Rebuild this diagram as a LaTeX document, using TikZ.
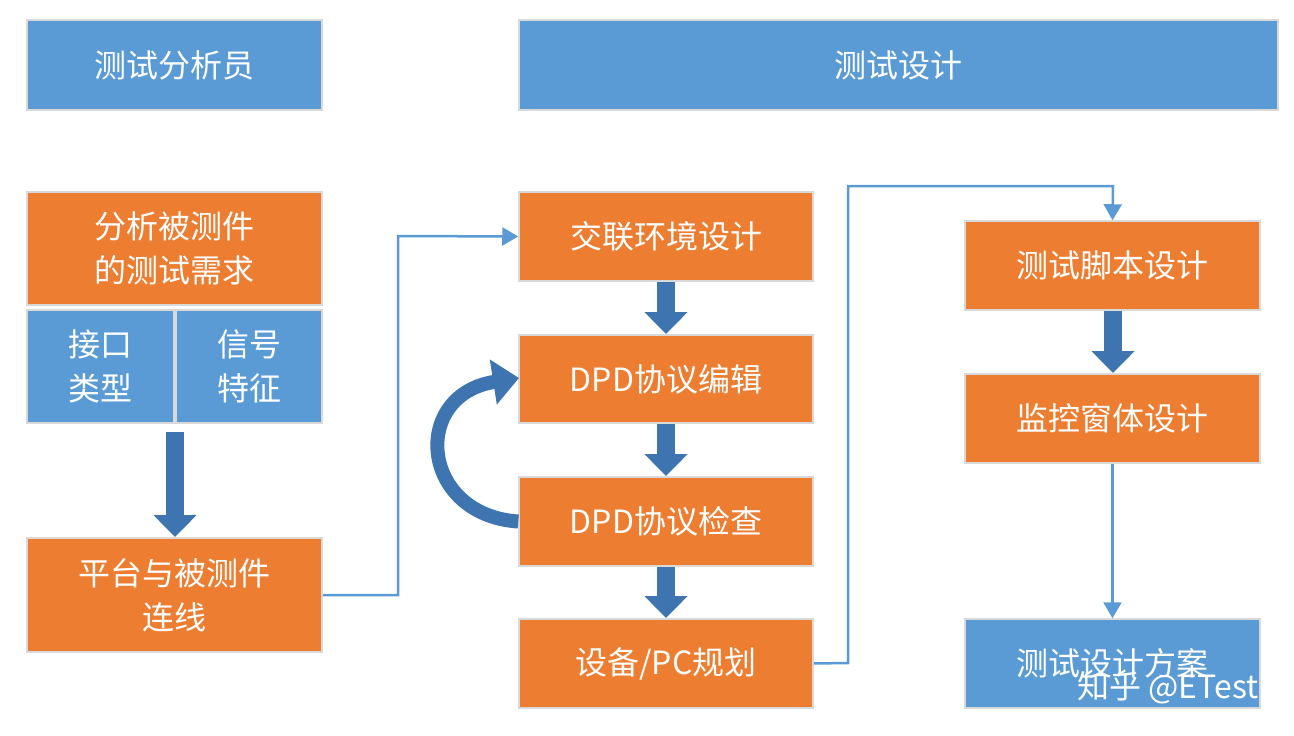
\documentclass[tikz,border=0pt]{standalone}
\usepackage{fontspec}
\setmainfont{Noto Sans CJK SC}
\usetikzlibrary{arrows.meta}
\definecolor{bl}{HTML}{5B9BD5}
\definecolor{or}{HTML}{ED7D31}
\definecolor{ar}{HTML}{5B9BD5}
\definecolor{fat}{HTML}{3E75B0}
\begin{document}
\begin{tikzpicture}[x=1pt,y=-1pt,
  box/.style={draw=white!85!black,line width=1.5pt,text=white,align=center,inner sep=0pt,font=\fontsize{32}{44}\selectfont},
  ob/.style={box,fill=or},bb/.style={box,fill=bl},
  thin/.style={draw=ar,line width=2.5pt,-{Triangle[length=16pt,width=18pt]}},
  fatarrow/.style={draw=fat,line width=18pt,-{Triangle[length=22pt,width=42pt]}}]
\useasboundingbox (0,0) rectangle (1294,736);
\newcommand{\bx}[6]{\node[#1,minimum width=#4-#2,minimum height=#5-#3] (#6) at ({(#2+#4)/2},{(#3+#5)/2})}
\bx{bb}{27}{20}{322}{110}{ana}{测试分析员};
\bx{bb}{519}{20}{1278}{110}{des}{测试设计};
\bx{ob}{27}{192}{322}{305}{req}{分析被测件\\的测试需求};
\bx{bb}{27}{310}{174}{423}{ifc}{接口\\类型};
\bx{bb}{176}{310}{322}{423}{sig}{信号\\特征};
\bx{ob}{27}{538}{322}{652}{con}{平台与被测件\\连线};
\bx{ob}{519}{192}{813}{281}{env}{交联环境设计};
\bx{ob}{519}{335}{813}{423}{edit}{DPD协议编辑};
\bx{ob}{519}{477}{813}{566}{chk}{DPD协议检查};
\bx{ob}{519}{619}{813}{708}{pc}{设备/PC规划};
\bx{ob}{965}{221}{1260}{310}{scr}{测试脚本设计};
\bx{ob}{965}{374}{1260}{463}{mon}{监控窗体设计};
\bx{bb}{965}{619}{1260}{708}{plan}{测试设计方案};
\draw[fatarrow] (175,432) -- (175,537);
\draw[fatarrow] (666,282) -- (666,334);
\draw[fatarrow] (666,424) -- (666,476);
\draw[fatarrow] (666,567) -- (666,618);
\draw[fatarrow] (1113,311) -- (1113,373);
\draw[fat,line width=14pt,-{Triangle[length=26pt,width=44pt]}] (chk.west) .. controls (420,515) and (410,395) .. (519,378);
\draw[thin] (con.east) -- (398,595) -- (398,236) -- (env.west);
\draw[thin] (pc.east) -- (848,663) -- (848,186) -- (1113,186) -- (scr.north);
\draw[thin] (mon.south) -- (plan.north);
\node[text=white,font=\fontsize{32}{36}\selectfont,anchor=east] (wm) at (1262,688) {知乎 @ETest};
\end{tikzpicture}
\end{document}
